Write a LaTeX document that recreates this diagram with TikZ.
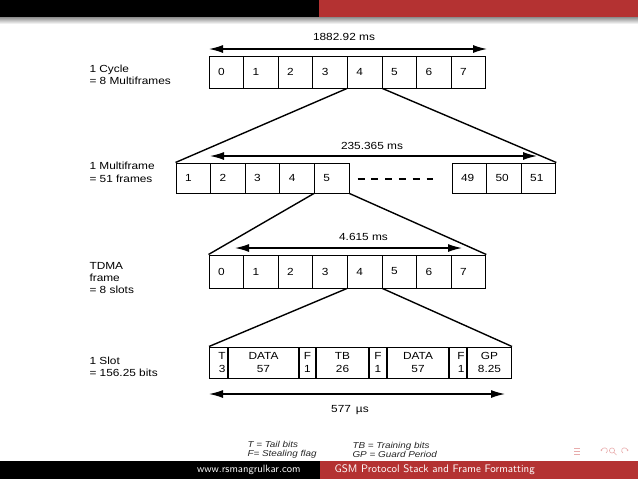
\documentclass[tikz,border=0pt]{standalone}
\usepackage{fontspec}
\usetikzlibrary{arrows.meta}
\newfontfamily\figfont[FakeStretch=1.15]{Liberation Sans}
\definecolor{barred}{RGB}{180,50,50}
\definecolor{navpink}{RGB}{232,172,172}

\begin{document}
\begin{tikzpicture}[x=1pt, y=-1pt,
  lbl/.style={font=\figfont\fontsize{10.3}{12.5}\selectfont},
  cell/.style={draw, line width=1pt, minimum width=34.6pt, inner sep=0pt,
    inner xsep=9pt, text width=16.6pt, align=left, lbl},
  field/.style={draw, line width=1pt, minimum height=31pt, inner sep=0pt,
    inner xsep=2pt, anchor=west, align=center, lbl},
  span/.style={line width=1.3pt, {Latex[length=14pt,width=8pt]}-{Latex[length=14pt,width=8pt]}},
  link/.style={line width=1.4pt},
  side/.style={anchor=west, align=left, lbl},
  legend/.style={anchor=west, align=left, text=black!85, font=\figfont\itshape\fontsize{8.6}{9}\selectfont}]

  \useasboundingbox (0,0) rectangle (638,479);

  % Slide head and foot bars
  \fill[black] (0,0) rectangle (319,17);
  \fill[barred] (319,0) rectangle (638,17);
  \shade[top color=black!45, bottom color=white] (0,17) rectangle (638,24);
  \fill[black] (0,461) rectangle (320,479);
  \fill[barred] (320,461) rectangle (638,479);
  \node[anchor=east, text=white, font=\sffamily\fontsize{10.6}{12}\selectfont] (site) at (304,470) {www.rsmangrulkar.com};
  \node[anchor=west, text=white, font=\sffamily\fontsize{10.9}{12}\selectfont] (title) at (331,470) {GSM Protocol Stack and Frame Formatting};

  % Level 1 cycle
  \node[side] (cycleT) at (86,75) {1 Cycle\\= 8 Multiframes};
  \coordinate (cycleL) at (209,49);
  \coordinate (cycleR) at (487,49);
  \draw[span] (cycleL) -- (cycleR);
  \node[lbl] (cycleD) at (344,37) {1882.92 ms};

  \node[cell, minimum height=32pt] (mf0) at (226.3 + 0 * 34.6, 72) {0};
  \node[cell, minimum height=32pt] (mf1) at (226.3 + 1 * 34.6, 72) {1};
  \node[cell, minimum height=32pt] (mf2) at (226.3 + 2 * 34.6, 72) {2};
  \node[cell, minimum height=32pt] (mf3) at (226.3 + 3 * 34.6, 72) {3};
  \node[cell, minimum height=32pt] (mf4) at (226.3 + 4 * 34.6, 72) {4};
  \node[cell, minimum height=32pt] (mf5) at (226.3 + 5 * 34.6, 72) {5};
  \node[cell, minimum height=32pt] (mf6) at (226.3 + 6 * 34.6, 72) {6};
  \node[cell, minimum height=32pt] (mf7) at (226.3 + 7 * 34.6, 72) {7};

  % Level 1 multiframe
  \node[side] (multiT) at (86,172.5) {1 Multiframe\\= 51 frames};
  \coordinate (multiL) at (210,156);
  \coordinate (multiR) at (537,156);
  \draw[span] (multiL) -- (multiR);
  \node[lbl] (multiD) at (372,146) {235.365 ms};

  \node[cell, minimum height=30pt] (fr1) at (193.3 + 0 * 34.6, 178) {1};
  \node[cell, minimum height=30pt] (fr2) at (193.3 + 1 * 34.6, 178) {2};
  \node[cell, minimum height=30pt] (fr3) at (193.3 + 2 * 34.6, 178) {3};
  \node[cell, minimum height=30pt] (fr4) at (193.3 + 3 * 34.6, 178) {4};
  \node[cell, minimum height=30pt] (fr5) at (193.3 + 4 * 34.6, 178) {5};
  \node[cell, minimum height=30pt] (fr49) at (469.3 + 0 * 34.6, 178) {49};
  \node[cell, minimum height=30pt] (fr50) at (469.3 + 1 * 34.6, 178) {50};
  \node[cell, minimum height=30pt] (fr51) at (469.3 + 2 * 34.6, 178) {51};
  \draw[line width=1.3pt, dash pattern=on 7pt off 6.8pt, shorten <=8pt, shorten >=19pt]
    ([yshift=-1pt]fr5.east) -- ([yshift=-1pt]fr49.west);

  \draw[link] (mf4.south west) -- (fr1.north west);
  \draw[link] (mf4.south east) -- (fr51.north east);

  % Level TDMA frame
  \node[side, font=\figfont\fontsize{10.3}{12}\selectfont] (tdmaT) at (86,278) {TDMA\\frame\\= 8 slots};
  \coordinate (tdmaL) at (235,248);
  \coordinate (tdmaR) at (462,248);
  \draw[span] (tdmaL) -- (tdmaR);
  \node[lbl] (tdmaD) at (363.5,237) {4.615 ms};

  \node[cell, minimum height=33pt] (ts0) at (226.3 + 0 * 34.6, 271.5) {0};
  \node[cell, minimum height=33pt] (ts1) at (226.3 + 1 * 34.6, 271.5) {1};
  \node[cell, minimum height=33pt] (ts2) at (226.3 + 2 * 34.6, 271.5) {2};
  \node[cell, minimum height=33pt] (ts3) at (226.3 + 3 * 34.6, 271.5) {3};
  \node[cell, minimum height=33pt] (ts4) at (226.3 + 4 * 34.6, 271.5) {4};
  \node[cell, minimum height=33pt] (ts5) at (226.3 + 5 * 34.6, 271.5) {5};
  \node[cell, minimum height=33pt] (ts6) at (226.3 + 6 * 34.6, 271.5) {6};
  \node[cell, minimum height=33pt] (ts7) at (226.3 + 7 * 34.6, 271.5) {7};

  \draw[link] (fr5.south west) -- (ts0.north west);
  \draw[link] (fr5.south east) -- (ts7.north east);

  % Level 1 slot
  \node[side] (slotT) at (86,367) {1 Slot\\= 156.25 bits};

  \node[field, minimum width=18pt, text width=14pt, align=right] (bT) at (209,362.5) {T\\3};
  \node[field, minimum width=70pt, text width=66pt] (bD1) at (bT.east) {DATA\\57};
  \node[field, minimum width=16pt, text width=12pt] (bF1) at (bD1.east) {F\\1};
  \node[field, minimum width=52pt, text width=48pt] (bTB) at (bF1.east) {TB\\26};
  \node[field, minimum width=17pt, text width=13pt] (bF2) at (bTB.east) {F\\1};
  \node[field, minimum width=61pt, text width=57pt] (bD2) at (bF2.east) {DATA\\57};
  \node[field, minimum width=17pt, text width=13pt, align=right] (bF3) at (bD2.east) {F\\1};
  \node[field, minimum width=44pt, text width=40pt] (bGP) at (bF3.east) {GP\\8.25};

  \draw[link] (ts4.south west) -- (bT.north west);
  \draw[link] (ts4.south east) -- (bGP.north east);

  \coordinate (slotL) at (209,394);
  \coordinate (slotR) at (505,394);
  \draw[span] (slotL) -- (slotR);
  \node[lbl] (slotD) at (350,410) {577 \,µs};

  % Legend
  \node[legend] (keyA) at (244,449.5) {T = Tail bits\\F= Stealing flag};
  \node[legend] (keyB) at (349,449.5) {TB = Training bits\\GP = Guard Period};

  % Navigation symbols
  \draw[navpink, line width=0.6pt] (574,448) -- (580,448) (574,451) -- (580,451) (574,454) -- (580,454);
  \draw[navpink, line width=0.6pt, -{Latex[length=2pt,width=2pt]}] (606,453) arc[start angle=-60, end angle=200, radius=2.8pt];
  \draw[navpink, line width=0.6pt] (612,450.5) circle[radius=2.6pt] (614,452.5) -- (616.5,455);
  \draw[navpink, line width=0.6pt, -{Latex[length=2pt,width=2pt]}] (623,453) arc[start angle=240, end angle=-20, radius=2.8pt];
\end{tikzpicture}
\end{document}
